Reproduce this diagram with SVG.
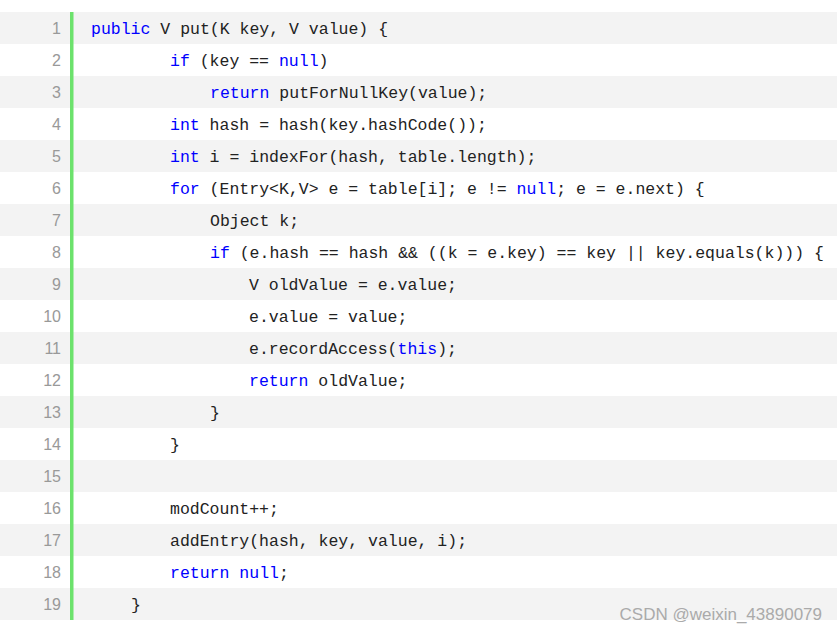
<svg xmlns="http://www.w3.org/2000/svg" width="837" height="632" viewBox="0 0 837 632">
<style>
.bg{fill:#f3f3f3}
.n{font:16px "Liberation Sans",Arial,sans-serif;fill:#999;text-anchor:end}
.c{font:16.5px "Liberation Mono",monospace;fill:#222;white-space:pre}
.k{fill:#0000ff}
</style>
<rect width="837" height="632" fill="#fff"/>
<g id="rows">
<rect class="bg" y="12" width="837" height="32"/>
<rect class="bg" y="76" width="837" height="32"/>
<rect class="bg" y="140" width="837" height="32"/>
<rect class="bg" y="204" width="837" height="32"/>
<rect class="bg" y="268" width="837" height="32"/>
<rect class="bg" y="332" width="837" height="32"/>
<rect class="bg" y="396" width="837" height="32"/>
<rect class="bg" y="460" width="837" height="32"/>
<rect class="bg" y="524" width="837" height="32"/>
<rect class="bg" y="588" width="837" height="32"/>
<rect x="70" y="12" width="3.5" height="608" fill="#6ce26c"/>
</g>
<g id="numbers" class="n">
<text x="61" y="34">1</text><text x="61" y="66">2</text><text x="61" y="98">3</text><text x="61" y="130">4</text><text x="61" y="162">5</text><text x="61" y="194">6</text><text x="61" y="226">7</text><text x="61" y="258">8</text><text x="61" y="290">9</text><text x="61" y="322">10</text><text x="61" y="354">11</text><text x="61" y="386">12</text><text x="61" y="418">13</text><text x="61" y="450">14</text><text x="61" y="482">15</text><text x="61" y="514">16</text><text x="61" y="546">17</text><text x="61" y="578">18</text><text x="61" y="610">19</text>
</g>
<g id="code" class="c">
<text x="91" y="34"><tspan class="k">public</tspan> V put(K key, V value) {</text>
<text x="170" y="66"><tspan class="k">if</tspan> (key == <tspan class="k">null</tspan>)</text>
<text x="210" y="98"><tspan class="k">return</tspan> putForNullKey(value);</text>
<text x="170" y="130"><tspan class="k">int</tspan> hash = hash(key.hashCode());</text>
<text x="170" y="162"><tspan class="k">int</tspan> i = indexFor(hash, table.length);</text>
<text x="170" y="194"><tspan class="k">for</tspan> (Entry&lt;K,V&gt; e = table[i]; e != <tspan class="k">null</tspan>; e = e.next) {</text>
<text x="210" y="226">Object k;</text>
<text x="210" y="258"><tspan class="k">if</tspan> (e.hash == hash &amp;&amp; ((k = e.key) == key || key.equals(k))) {</text>
<text x="249" y="290">V oldValue = e.value;</text>
<text x="249" y="322">e.value = value;</text>
<text x="249" y="354">e.recordAccess(<tspan class="k">this</tspan>);</text>
<text x="249" y="386"><tspan class="k">return</tspan> oldValue;</text>
<text x="210" y="418">}</text>
<text x="170" y="450">}</text>
<text x="170" y="514">modCount++;</text>
<text x="170" y="546">addEntry(hash, key, value, i);</text>
<text x="170" y="578"><tspan class="k">return</tspan> <tspan class="k">null</tspan>;</text>
<text x="131" y="610">}</text>
</g>
<text x="822" y="620" text-anchor="end" style="font:17px 'Liberation Sans',Arial,sans-serif;fill:#aaa">CSDN @weixin_43890079</text>
</svg>
